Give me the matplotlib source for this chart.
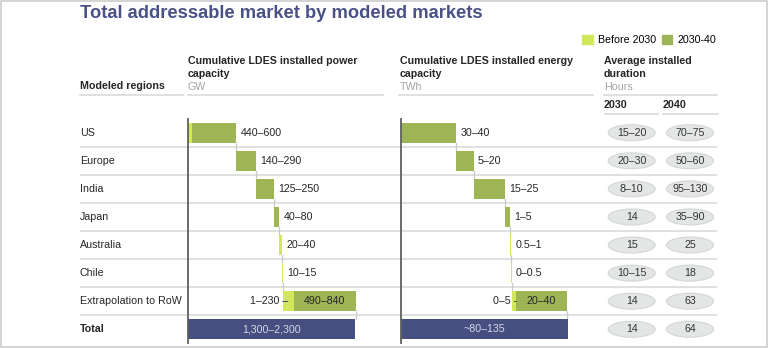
import matplotlib
matplotlib.use("Agg")
import matplotlib.pyplot as plt
from matplotlib.patches import Ellipse, Patch, Rectangle

plt.rcParams['font.family'] = ['Liberation Sans', 'DejaVu Sans']

W, H = 768, 348

regions = ["US", "Europe", "India", "Japan", "Australia", "Chile", "Extrapolation to RoW"]

# Cumulative installed power capacity, GW (segments of the waterfall)
power_before = [40, 0, 0, 0, 30, 12.5, 115.5]
power_after = [480, 215, 187.5, 60, 0, 0, 665]
power_labels = ["440–600", "140–290", "125–250", "40–80", "20–40", "10–15", "490–840"]
power_early_label = "1–230"
power_total = 1800
power_total_label = "1,300–2,300"

# Cumulative installed energy capacity, TWh
energy_before = [0, 0, 0, 0, 0.75, 0.25, 2.5]
energy_after = [36, 11, 20.5, 3.2, 0, 0, 33]
energy_labels = ["30–40", "5–20", "15–25", "1–5", "0.5–1", "0–0.5", "20–40"]
energy_early_label = "0–5"
energy_total = 107.5
energy_total_label = "~80–135"

# Average installed duration, hours (last entry = total)
duration_2030 = ["15–20", "20–30", "8–10", "14", "15", "10–15", "14", "14"]
duration_2040 = ["70–75", "50–60", "95–130", "35–90", "25", "18", "63", "64"]

LIGHT = "#d3e75c"
DARK = "#9db555"
NAVY = "#474e80"
TITLE = "#4a5186"
TXT = "#262626"
GREY = "#a3a3a3"
RULE = "#d9dcdc"
CONN = "#c9c9c9"
BAR_H = 0.71
FS = 7.7

fig = plt.figure(figsize=(W / 100, H / 100), dpi=100)

ROW_TOP, ROW_BOT = 118.7, 343.3


def px_axes(x0, x1, y0=ROW_TOP, y1=ROW_BOT):
    ax = fig.add_axes([x0 / W, 1 - y1 / H, (x1 - x0) / W, (y1 - y0) / H])
    ax.patch.set_alpha(0)
    ax.set_ylim(len(regions) + 0.5, -0.5)
    for s in ax.spines.values():
        s.set_visible(False)
    ax.set_xticks([])
    ax.set_yticks([])
    return ax


def ftext(x, y, s, **kw):
    kw.setdefault("fontsize", FS)
    kw.setdefault("color", TXT)
    kw.setdefault("va", "center")
    fig.text(x / W, 1 - y / H, s, **kw)


def hrule(x0, x1, y, color=RULE, lw=1.2):
    fig.add_artist(plt.Line2D([x0 / W, x1 / W], [1 - y / H, 1 - y / H],
                              color=color, lw=lw, transform=fig.transFigure))


# row separators and row names
bg = px_axes(80, 717)
bg.set_xlim(0, 1)
for i in range(len(regions)):
    bg.axhline(i + 0.5, color=RULE, lw=1.2, zorder=0)
for i, name in enumerate(regions + ["Total"]):
    bg.text(0, i, name, fontsize=FS, color=TXT, va="center", ha="left",
            fontweight="bold" if name == "Total" else "normal")


def waterfall(ax, before, after, labels, early_label, total, total_label, dash):
    ax.spines["left"].set_visible(True)
    ax.spines["left"].set_color("#5f5f5f")
    ax.spines["left"].set_linewidth(1.3)
    left = 0
    n = len(before)
    for i in range(n):
        if before[i]:
            ax.barh(i, before[i], left=left, height=BAR_H, color=LIGHT, zorder=2)
        if after[i]:
            ax.barh(i, after[i], left=left + before[i], height=BAR_H, color=DARK, zorder=2)
        end = left + before[i] + after[i]
        if i == n - 1:
            # early segment labelled on its left, main segment labelled inside
            ax.annotate(early_label + " " + dash, (left, i), xytext=(3.5, 0),
                        textcoords="offset points", ha="right", va="center",
                        fontsize=FS, color=TXT)
            ax.text(left + before[i] + after[i] / 2, i, labels[i], ha="center",
                    va="center", fontsize=FS, color=TXT, zorder=3)
        else:
            ax.annotate(labels[i], (end, i), xytext=(3, 0), textcoords="offset points",
                        ha="left", va="center", fontsize=FS, color=TXT)
        ax.plot([end, end], [i + BAR_H / 2, i + 1 - BAR_H / 2], color=CONN, lw=0.9, zorder=1)
        left = end
    ax.barh(n, total, height=BAR_H, color=NAVY, zorder=2)
    ax.text(total / 2, n, total_label, ha="center", va="center", fontsize=FS,
            color="#d4d7e8", zorder=3)


ax_p = px_axes(188, 380)
ax_p.set_xlim(0, 192 / (167 / power_total))
waterfall(ax_p, power_before, power_after, power_labels, power_early_label,
          power_total, power_total_label, "–")

ax_e = px_axes(400.5, 593)
ax_e.set_xlim(0, 192.5 / (167 / energy_total))
waterfall(ax_e, energy_before, energy_after, energy_labels, energy_early_label,
          energy_total, energy_total_label, "-")

# duration table with pill-shaped cells
ax_d = px_axes(604, 717)
ax_d.set_xlim(-27.7 / 58.3, 1 + 27 / 58.3)
for col, vals in enumerate([duration_2030, duration_2040]):
    for i, v in enumerate(vals):
        ax_d.add_patch(Ellipse((col, i), 47 / 58.3, 0.57, facecolor="#e4e6e6",
                               edgecolor="#d3d6d6", lw=0.8, zorder=2))
        ax_d.text(col, i, v, ha="center", va="center", fontsize=FS, color="#333333", zorder=3)

# title
ftext(80, 17.5, "Total addressable market by modeled markets", fontsize=13.2,
      fontweight="bold", color=TITLE, va="baseline")

# column headers
ftext(80, 86, "Modeled regions", fontweight="bold")
ftext(188, 56, "Cumulative LDES installed power\ncapacity", fontweight="bold",
      va="top", linespacing=1.35)
ftext(188, 87, "GW", color=GREY)
ftext(400, 56, "Cumulative LDES installed energy\ncapacity", fontweight="bold",
      va="top", linespacing=1.35)
ftext(400, 87, "TWh", color=GREY)
ftext(604, 56, "Average installed\nduration", fontweight="bold",
      va="top", linespacing=1.35)
ftext(604, 87, "Hours", color=GREY)
ftext(604, 105, "2030", fontweight="bold")
ftext(663, 105, "2040", fontweight="bold")

for x0, x1 in [(80, 183), (188, 383), (399, 593), (604, 717)]:
    hrule(x0, x1, 94.5)
for x0, x1 in [(605, 658), (663, 718)]:
    hrule(x0, x1, 114)

# legend
fig.legend(handles=[Patch(color=LIGHT, label="Before 2030"), Patch(color=DARK, label="2030-40")],
           loc="center left", bbox_to_anchor=(582 / W, 1 - 40 / H), ncol=2, frameon=False,
           fontsize=FS, handlelength=1.0, handleheight=1.0, handletextpad=0.45,
           columnspacing=0.55, borderaxespad=0, borderpad=0)

# thin frame around the figure
fig.add_artist(Rectangle((0.5 / W, 1.5 / H), (W - 1.5) / W, (H - 2.5) / H,
                         transform=fig.transFigure, fill=False, ec="#cccccc", lw=1.2))

fig.savefig("out.png", dpi=100)
